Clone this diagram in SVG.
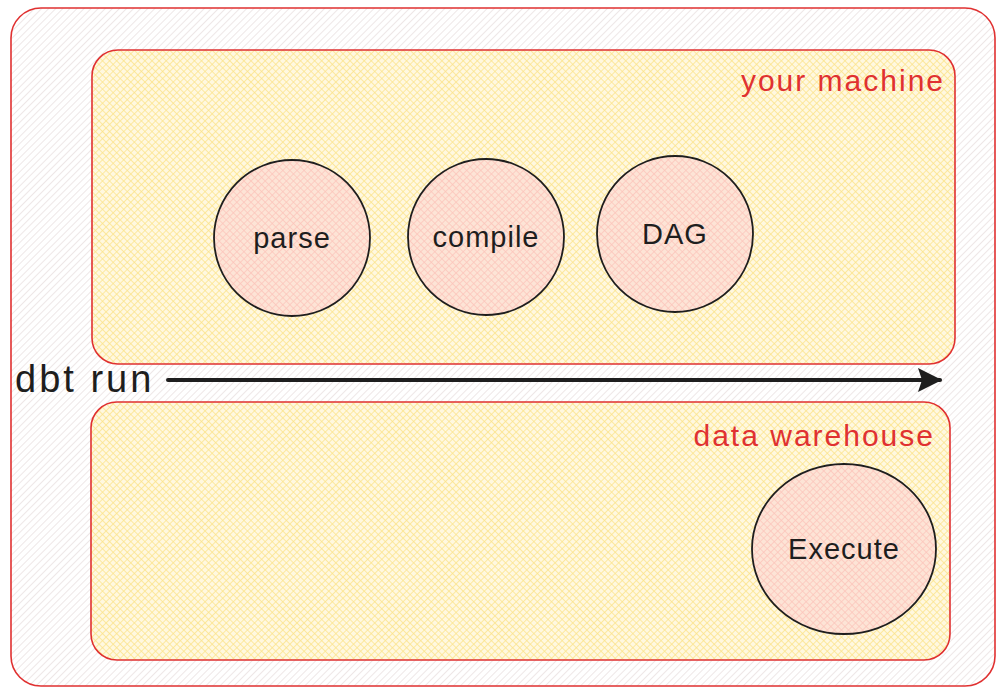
<svg xmlns="http://www.w3.org/2000/svg" width="1000" height="693" viewBox="0 0 1000 693">
  <defs>
    <pattern id="hatchGray" width="5" height="5" patternUnits="userSpaceOnUse" patternTransform="rotate(45)">
      <rect width="5" height="5" fill="#ffffff"/>
      <line x1="0" y1="0" x2="0" y2="5" stroke="#e4d8d8" stroke-width="1.2"/>
    </pattern>
    <pattern id="hatchYellow" width="5" height="5" patternUnits="userSpaceOnUse" patternTransform="rotate(45)">
      <rect width="5" height="5" fill="#fff8e0"/>
      <line x1="0" y1="0" x2="0" y2="5" stroke="#fbe38a" stroke-width="1.5"/>
      <line x1="0" y1="0" x2="5" y2="0" stroke="#fbe38a" stroke-width="1.5"/>
    </pattern>
    <pattern id="hatchPink" width="5" height="5" patternUnits="userSpaceOnUse" patternTransform="rotate(45)">
      <rect width="5" height="5" fill="#fde4d6"/>
      <line x1="0" y1="0" x2="0" y2="5" stroke="#fcc4ba" stroke-width="1.5"/>
      <line x1="0" y1="0" x2="5" y2="0" stroke="#fcc4ba" stroke-width="1.5"/>
    </pattern>
    <marker id="arrowHead" markerWidth="8" markerHeight="8" refX="5.5" refY="4" orient="auto" markerUnits="strokeWidth">
      <path d="M0,1 L6,4 L0,7 L1,4 Z" fill="#1e1e1e"/>
    </marker>
    <style>
      .frame { stroke: #e03131; stroke-width: 1.6; }
      .circle { fill: url(#hatchPink); stroke: #1e1e1e; stroke-width: 1.8; }
      .label { font-family: "Liberation Sans", "DejaVu Sans", sans-serif; font-size: 29px; fill: #1e1e1e; text-anchor: middle; letter-spacing: 1px; }
      .title { font-family: "Liberation Sans", "DejaVu Sans", sans-serif; font-size: 30px; fill: #e03131; text-anchor: end; letter-spacing: 2px; }
      .cmd { font-family: "Liberation Sans", "DejaVu Sans", sans-serif; font-size: 38px; fill: #1e1e1e; letter-spacing: 3px; }
    </style>
  </defs>

  <rect width="1000" height="693" fill="#ffffff"/>

  <g id="outer">
    <rect x="11" y="8" width="984" height="678" rx="30" fill="url(#hatchGray)" class="frame"/>
  </g>

  <g id="your-machine">
    <rect x="92" y="50" width="863" height="314" rx="26" fill="url(#hatchYellow)" class="frame"/>
    <text x="945" y="91" class="title">your machine</text>
  </g>

  <g id="data-warehouse">
    <rect x="91" y="402" width="859" height="258" rx="26" fill="url(#hatchYellow)" class="frame"/>
    <text x="935" y="446" class="title">data warehouse</text>
  </g>

  <g id="parse">
    <circle cx="292" cy="238" r="78" class="circle"/>
    <text x="292" y="248" class="label">parse</text>
  </g>

  <g id="compile">
    <circle cx="486" cy="237" r="78" class="circle"/>
    <text x="486" y="247" class="label">compile</text>
  </g>

  <g id="dag">
    <circle cx="675" cy="234" r="78" class="circle"/>
    <text x="675" y="244" class="label">DAG</text>
  </g>

  <g id="execute">
    <ellipse cx="844" cy="549" rx="92" ry="85" class="circle"/>
    <text x="844" y="559" class="label">Execute</text>
  </g>

  <g id="dbt-run">
    <text x="15" y="392" class="cmd">dbt run</text>
  </g>

  <g id="connectors">
    <line x1="168" y1="380" x2="940" y2="380" stroke="#1e1e1e" stroke-width="4" stroke-linecap="round" marker-end="url(#arrowHead)"/>
  </g>
</svg>
